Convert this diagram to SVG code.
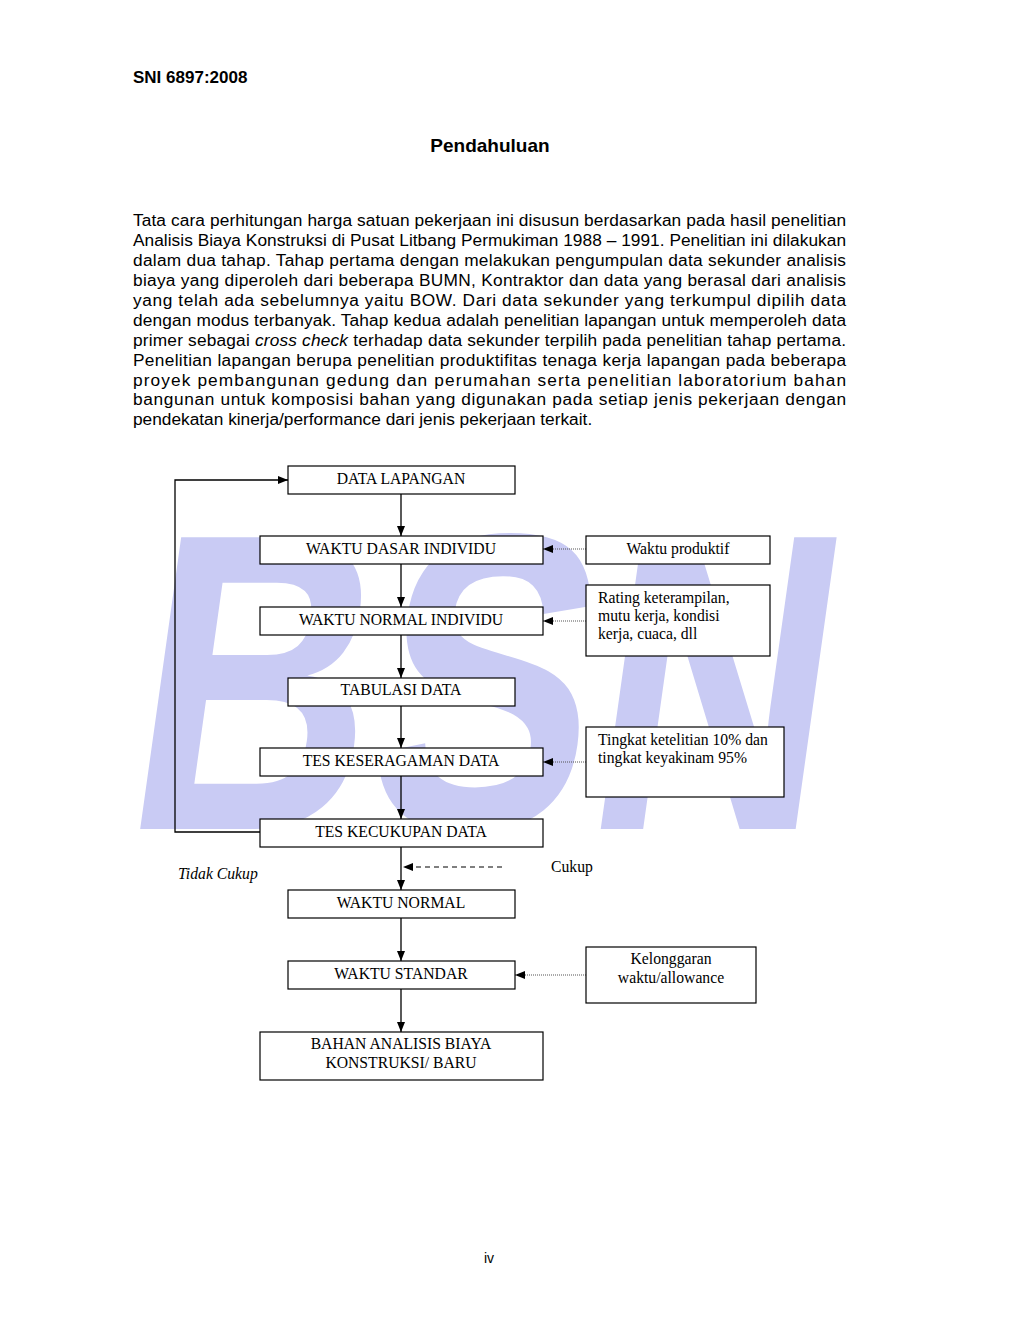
<svg xmlns="http://www.w3.org/2000/svg" width="1024" height="1326" viewBox="0 0 1024 1326">
<style>
.sans{font-family:"Liberation Sans",Arial,sans-serif;fill:#000}
.p{font-size:17.3px}
.serif{font-family:"Liberation Serif","Times New Roman",serif;font-size:15.7px;fill:#000}
.box{fill:#fff;stroke:#000;stroke-width:1.2}
.ln{stroke:#000;stroke-width:1.3;fill:none}
.dot{stroke:#555;stroke-width:1.2;stroke-dasharray:1 1;fill:none}
.dash{stroke:#000;stroke-width:1.2;stroke-dasharray:5 4;fill:none}
.mid{text-anchor:middle}
</style>
<defs>
<marker id="ah" markerWidth="10" markerHeight="8" refX="10" refY="4" orient="auto" markerUnits="userSpaceOnUse">
<path d="M0,0 L10,4 L0,8 Z" fill="#000"/>
</marker>
</defs>
<rect width="1024" height="1326" fill="#fff"/>

<text class="sans" x="133" y="83" font-size="17" font-weight="bold">SNI 6897:2008</text>
<text class="sans mid" x="490" y="152" font-size="19" font-weight="bold">Pendahuluan</text>

<g class="sans p">
<text x="133" y="226" textLength="713" lengthAdjust="spacing">Tata cara perhitungan harga satuan pekerjaan ini disusun berdasarkan pada hasil penelitian</text>
<text x="133" y="246" textLength="713" lengthAdjust="spacing">Analisis Biaya Konstruksi di Pusat Litbang Permukiman 1988 – 1991. Penelitian ini dilakukan</text>
<text x="133" y="266" textLength="713" lengthAdjust="spacing">dalam dua tahap. Tahap pertama dengan melakukan pengumpulan data sekunder analisis</text>
<text x="133" y="286" textLength="713" lengthAdjust="spacing">biaya yang diperoleh dari beberapa BUMN, Kontraktor dan data yang berasal dari analisis</text>
<text x="133" y="306" textLength="713" lengthAdjust="spacing">yang telah ada sebelumnya yaitu BOW. Dari data sekunder yang terkumpul dipilih data</text>
<text x="133" y="326" textLength="713" lengthAdjust="spacing">dengan modus terbanyak. Tahap kedua adalah penelitian lapangan untuk memperoleh data</text>
<text x="133" y="346" textLength="713" lengthAdjust="spacing">primer sebagai <tspan font-style="italic">cross check</tspan> terhadap data sekunder terpilih pada penelitian tahap pertama.</text>
<text x="133" y="366" textLength="713" lengthAdjust="spacing">Penelitian lapangan berupa penelitian produktifitas tenaga kerja lapangan pada beberapa</text>
<text x="133" y="386" textLength="713" lengthAdjust="spacing">proyek pembangunan gedung dan perumahan serta penelitian laboratorium bahan</text>
<text x="133" y="405" textLength="713" lengthAdjust="spacing">bangunan untuk komposisi bahan yang digunakan pada setiap jenis pekerjaan dengan</text>
<text x="133" y="425">pendekatan kinerja/performance dari jenis pekerjaan terkait.</text>
</g>

<g id="watermark" transform="translate(118,829) skewX(-8)">
<text x="0" y="0" font-family="Liberation Sans,Arial,sans-serif" font-weight="bold" font-size="424" fill="#c9cbf4" textLength="700" lengthAdjust="spacingAndGlyphs">BSN</text>
</g>

<g id="connectors">
<line class="ln" x1="401" y1="494" x2="401" y2="536" marker-end="url(#ah)"/>
<line class="ln" x1="401" y1="564" x2="401" y2="607" marker-end="url(#ah)"/>
<line class="ln" x1="401" y1="635" x2="401" y2="678" marker-end="url(#ah)"/>
<line class="ln" x1="401" y1="706" x2="401" y2="748" marker-end="url(#ah)"/>
<line class="ln" x1="401" y1="776" x2="401" y2="819" marker-end="url(#ah)"/>
<line class="ln" x1="401" y1="847" x2="401" y2="890" marker-end="url(#ah)"/>
<line class="ln" x1="401" y1="918" x2="401" y2="961" marker-end="url(#ah)"/>
<line class="ln" x1="401" y1="989" x2="401" y2="1032" marker-end="url(#ah)"/>
<polyline class="ln" points="260,832 175,832 175,480 288,480" marker-end="url(#ah)"/>
<line class="dot" x1="586" y1="549" x2="543" y2="549" marker-end="url(#ah)"/>
<line class="dot" x1="586" y1="621" x2="543" y2="621" marker-end="url(#ah)"/>
<line class="dot" x1="586" y1="762" x2="543" y2="762" marker-end="url(#ah)"/>
<line class="dot" x1="586" y1="975" x2="515" y2="975" marker-end="url(#ah)"/>
<line class="dash" x1="502" y1="867" x2="403" y2="867" marker-end="url(#ah)"/>
</g>

<g id="n1"><rect class="box" x="288" y="466" width="227" height="28"/><text class="serif mid" x="401" y="484">DATA LAPANGAN</text></g>
<g id="n2"><rect class="box" x="260" y="536" width="283" height="28"/><text class="serif mid" x="401" y="554">WAKTU DASAR INDIVIDU</text></g>
<g id="n3"><rect class="box" x="260" y="607" width="283" height="28"/><text class="serif mid" x="401" y="625">WAKTU NORMAL INDIVIDU</text></g>
<g id="n4"><rect class="box" x="288" y="678" width="227" height="28"/><text class="serif mid" x="401" y="695">TABULASI DATA</text></g>
<g id="n5"><rect class="box" x="260" y="748" width="283" height="28"/><text class="serif mid" x="401" y="766">TES KESERAGAMAN DATA</text></g>
<g id="n6"><rect class="box" x="260" y="819" width="283" height="28"/><text class="serif mid" x="401" y="837">TES KECUKUPAN DATA</text></g>
<g id="n7"><rect class="box" x="288" y="890" width="227" height="28"/><text class="serif mid" x="401" y="908">WAKTU NORMAL</text></g>
<g id="n8"><rect class="box" x="288" y="961" width="227" height="28"/><text class="serif mid" x="401" y="979">WAKTU STANDAR</text></g>
<g id="n9"><rect class="box" x="260" y="1032" width="283" height="48"/><text class="serif mid" x="401" y="1049">BAHAN ANALISIS BIAYA</text><text class="serif mid" x="401" y="1068">KONSTRUKSI/ BARU</text></g>

<g id="r1"><rect class="box" x="586" y="536" width="184" height="28"/><text class="serif mid" x="678" y="554">Waktu produktif</text></g>
<g id="r2"><rect class="box" x="586" y="585" width="184" height="71"/><text class="serif" x="598" y="603">Rating keterampilan,</text><text class="serif" x="598" y="621">mutu kerja, kondisi</text><text class="serif" x="598" y="639">kerja, cuaca, dll</text></g>
<g id="r3"><rect class="box" x="586" y="727" width="198" height="70"/><text class="serif" x="598" y="745">Tingkat ketelitian 10% dan</text><text class="serif" x="598" y="763">tingkat keyakinam 95%</text></g>
<g id="r4"><rect class="box" x="586" y="947" width="170" height="56"/><text class="serif mid" x="671" y="964">Kelonggaran</text><text class="serif mid" x="671" y="983">waktu/allowance</text></g>

<text class="serif" x="178" y="879" font-style="italic">Tidak Cukup</text>
<text class="serif" x="551" y="872">Cukup</text>

<text class="sans" x="484" y="1263" font-size="14">iv</text>
</svg>
